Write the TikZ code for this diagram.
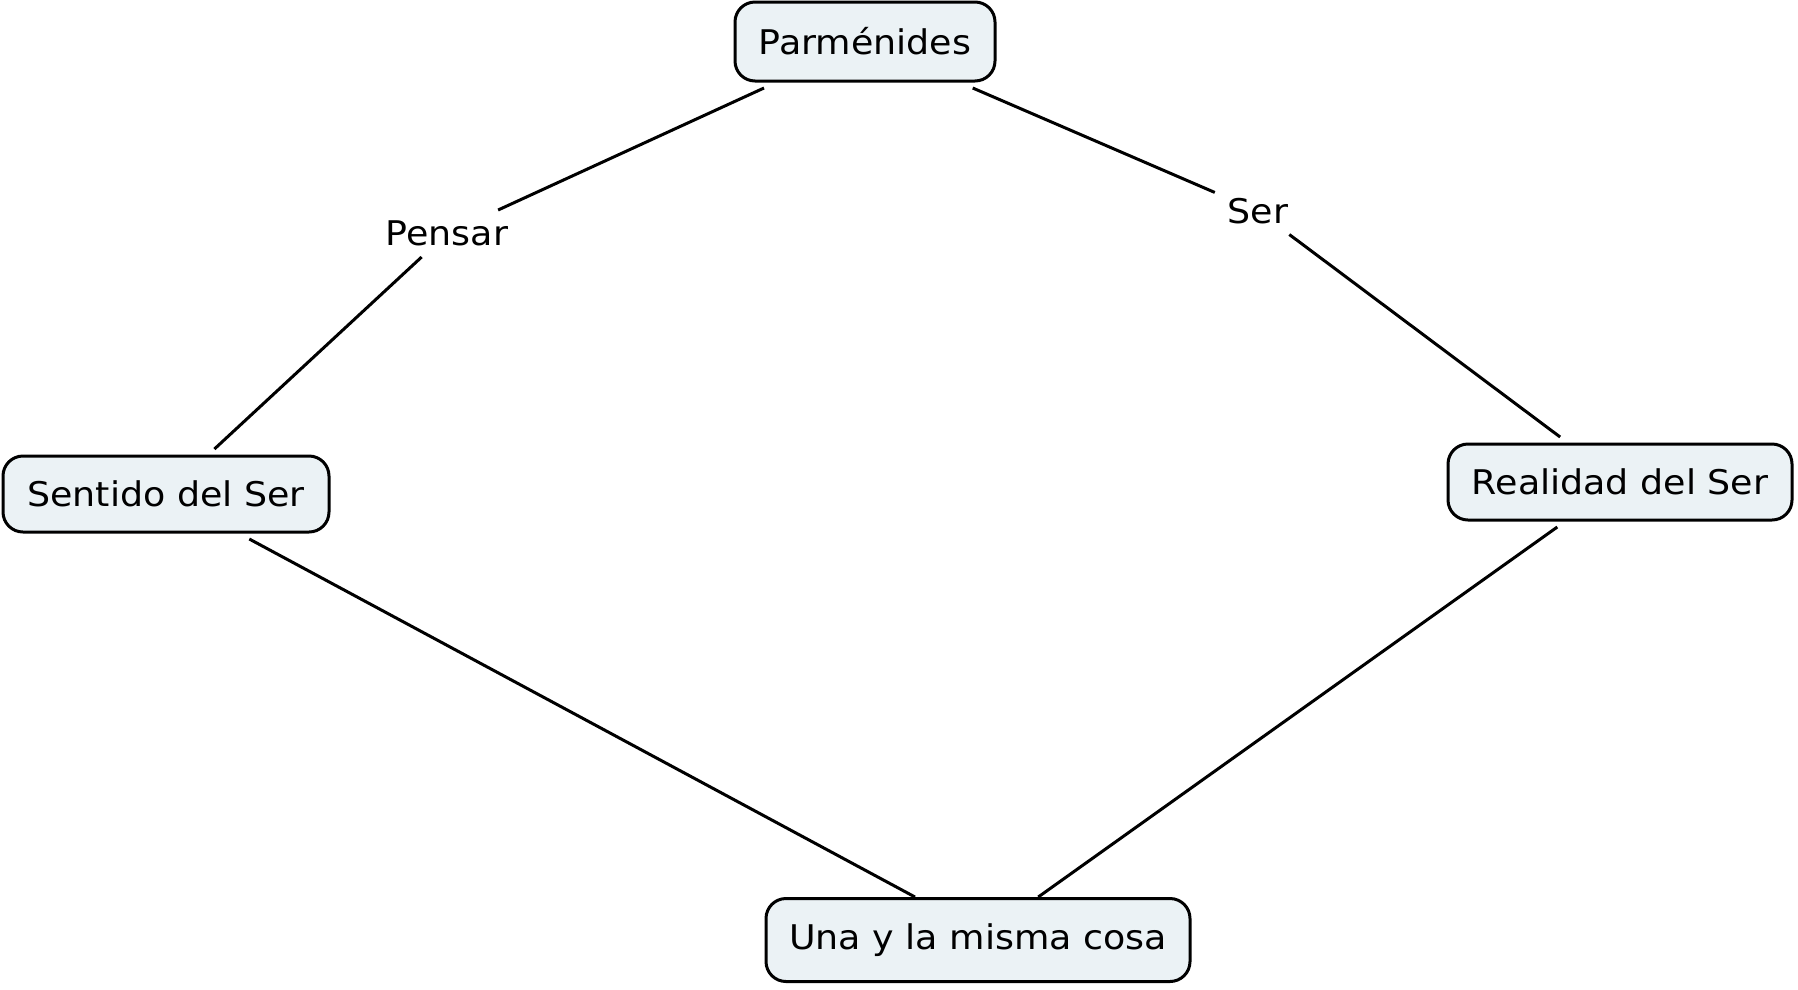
\documentclass[tikz,border=0pt]{standalone}
\usepackage{fontspec}
\usetikzlibrary{calc}
\setmainfont[FakeStretch=1.07]{DejaVu Sans}
\definecolor{boxfill}{HTML}{EBF2F5}
\begin{document}
\begin{tikzpicture}[x=1pt,y=-1pt,
  concept/.style={draw=black, line width=3pt, fill=boxfill, rounded corners=20pt,
    inner sep=0pt, outer sep=7pt, align=center, font=\fontsize{34}{40}\selectfont},
  linklabel/.style={inner xsep=13pt, inner ysep=0pt, minimum height=47pt, outer sep=0pt,
    font=\fontsize{34}{40}\selectfont},
  conn/.style={line width=3pt, black}]
\useasboundingbox (0,0) rectangle (1798,989);
\node[concept, minimum width=260pt, minimum height=79pt] (parm) at (865,41.5) {Parménides};
\node[concept, minimum width=326pt, minimum height=76pt] (sent) at (166,494) {Sentido del Ser};
\node[concept, minimum width=344pt, minimum height=76pt] (real) at (1620,482) {Realidad del Ser};
\node[concept, minimum width=424pt, minimum height=83pt, outer sep=1.5pt] (una) at (978,940) {Una y la misma cosa};
\node[linklabel] (pensar) at (447,233.5) {Pensar};
\node[linklabel] (ser) at (1258,211) {Ser};
\draw[conn] (parm) -- (pensar);
\draw[conn] (pensar) -- (sent);
\draw[conn] (parm) -- (ser);
\draw[conn] (ser) -- (real);
\draw[conn] (sent) -- ($(una.north)+(-63,0)$);
\draw[conn] (real) -- (una);
\end{tikzpicture}
\end{document}
